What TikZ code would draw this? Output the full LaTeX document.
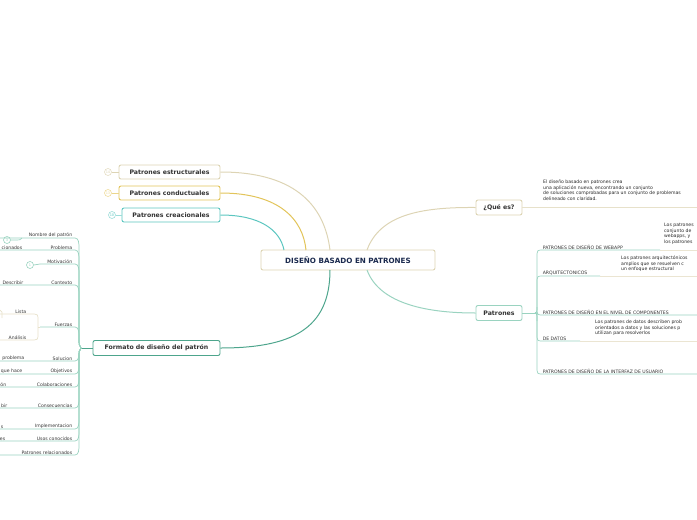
\documentclass[tikz,border=0pt]{standalone}
\usepackage{fontspec}
\setmainfont{DejaVu Sans}
\begin{document}
\begin{tikzpicture}[x=1pt,y=-1pt,
  box/.style={draw,rounded corners=2pt,line width=0.9pt,fill=white,font=\bfseries\fontsize{6.2}{7}\selectfont,text=black!80,inner sep=3pt,minimum height=14pt},
  lbl/.style={font=\fontsize{4.6}{5.5}\selectfont,text=black!80,inner sep=0.6pt},
  desc/.style={font=\fontsize{4.6}{5.5}\selectfont,text=black!85,align=left,inner sep=0pt,anchor=north west},
  num/.style={circle,draw,line width=0.6pt,font=\fontsize{3.5}{4}\selectfont,inner sep=0.6pt,minimum size=7pt},
  ln/.style={line width=0.7pt}]
\definecolor{beige}{HTML}{DDD4B4}
\definecolor{gold}{HTML}{E2C45A}
\definecolor{teal}{HTML}{5CC6C0}
\definecolor{green}{HTML}{4DA58C}
\definecolor{lgreen}{HTML}{9AD3C0}
\definecolor{navy}{HTML}{1B2A4E}
\useasboundingbox (0,0) rectangle (697,520);
% central
\node[box,draw=beige,text=navy,font=\bfseries\fontsize{7.2}{8}\selectfont,minimum width=174pt,minimum height=20pt] (c) at (348,260) {DISEÑO BASADO EN PATRONES};
\coordinate (ct1) at (330,250); \coordinate (ct2) at (306,250); \coordinate (ct3) at (284,250);
\coordinate (cb) at (330,270); \coordinate (cr1) at (367,250); \coordinate (cr2) at (367,270);
% left top
\node[box,draw=beige,minimum width=101pt] (pe) at (169.5,172) {Patrones estructurales};
\node[box,draw=gold,minimum width=101pt] (pc) at (169.5,193) {Patrones conductuales};
\node[box,draw=teal,minimum width=98pt] (pr) at (171,215) {Patrones creacionales};
\node[num,draw=beige!80,text=beige] (n14) at (108,172) {14};
\node[num,draw=gold!60,text=gold!60] (n13) at (108,193) {13};
\node[num,draw=teal!60,text=teal] (n10) at (112,215) {10};
\draw[ln,beige] (n14)--(pe); \draw[ln,gold!70] (n13)--(pc); \draw[ln,teal!60] (n10)--(pr);
\draw[ln,beige,line width=1pt] (pe.east) .. controls (300,172) and (325,210) .. (ct1);
\draw[ln,gold,line width=1pt] (pc.east) .. controls (280,193) and (303,220) .. (ct2);
\draw[ln,teal,line width=1pt] (pr.east) .. controls (260,215) and (280,230) .. (ct3);
% formato
\node[box,draw=green,minimum width=127pt,minimum height=15pt] (fm) at (156.5,348) {Formato de diseño del patrón};
\draw[ln,green,line width=1pt] (cb) .. controls (330,330) and (290,348) .. (fm.east);
\coordinate (fj) at (81,348);
\draw[ln,green] (fm.west)--(fj);
\foreach \t/\y/\l/\cc in {Nombre del patrón/238/0/lgreen,Problema/250/0/lgreen,Motivación/264/40/lgreen,Contexto/285/0/lgreen,Fuerzas/327/40/lgreen,Solucion/361/0/lgreen,Objetivos/374/0/lgreen,Colaboraciones/387/0/lgreen,Consecuencias/408/0/lgreen,Implementacion/429/0/lgreen,Usos conocidos/441/0/lgreen,Patrones relacionados/455/0/lgreen}{
  \node[lbl,anchor=south east] (f\y) at (73,\y) {\t};
  \ifdim\y pt<348pt
    \draw[ln,\cc] (\l,\y)--(75,\y) .. controls (79,\y) and (79,\y+6) .. (79,\y+10) -- (79,338) .. controls (79,345) .. (fj);
  \else
    \draw[ln,\cc] (\l,\y)--(75,\y) .. controls (79,\y) and (79,\y-6) .. (79,\y-10) -- (79,358) .. controls (79,351) .. (fj);
  \fi
}
% grandchildren on left
\node[lbl,anchor=south east] (g1) at (23,250) {cionados};
\node[lbl,anchor=south east] (g2) at (24,285) {Describir};
\node[lbl,anchor=south east] (g3) at (25,361) {problema};
\node[lbl,anchor=south east] (g4) at (23,374) {que hace};
\node[lbl,anchor=south east] (g5) at (7,387) {ón};
\node[lbl,anchor=south east] (g6) at (8,408) {bir};
\node[lbl,anchor=south east] (g7) at (4,429) {s};
\node[lbl,anchor=south east] (g8) at (6,441) {es};
\node[lbl,anchor=south east] (g9) at (27,314) {Lista};
\node[lbl,anchor=south east] (g10) at (27,340) {Análisis};
\draw[ln,beige!70] (0,314)--(30,314) .. controls (38,314) .. (38,320) -- (38,334) .. controls (38,340) .. (30,340) -- (0,340);
\draw[ln,beige!70] (38,327)--(40,327);
\draw[ln,beige!70] (0,310) -- (2,312) -- (2,318);
\node[num,draw=lgreen,text=lgreen] (n3) at (7,240) {3};
\node[num,draw=lgreen,text=lgreen] (n1) at (30,265) {1};
\draw[ln,lgreen] (n3.east)--(17,240) .. controls (20,240) .. (22,238);
\draw[ln,lgreen] (n1.east)--(40,264);
% right side
\node[box,draw=beige,minimum width=46pt,minimum height=15pt] (qe) at (499,207.5) {¿Qué es?};
\draw[ln,beige,line width=1pt] (cr1) .. controls (380,215) and (420,207) .. (qe.west);
\draw[ln,beige!70] (qe.east)--(697,207.5);
\node[desc] (qd) at (543,180) {El diseño basado en patrones crea\\una aplicación nueva, encontrando un conjunto\\de soluciones comprobadas para un conjunto de problemas\\delineado con claridad.};
\node[box,draw=lgreen,minimum width=46pt,minimum height=15pt] (pa) at (499,313) {Patrones};
\draw[ln,lgreen,line width=1pt] (cr2) .. controls (380,305) and (430,313) .. (pa.west);
\coordinate (pj) at (535,313);
\draw[ln,lgreen] (pa.east)--(pj);
\foreach \t/\y/\r in {PATRONES DE DISEÑO DE WEBAPP/250/660,ARQUITECTONICOS/276/600,PATRONES DE DISEÑO EN EL NIVEL DE COMPONENTES/315/697,DE DATOS/341/580,PATRONES DE DISEÑO DE LA INTERFAZ DE USUARIO/374/697}{
  \node[lbl,anchor=south west] (p\y) at (542,\y) {\t};
  \ifdim\y pt<313pt
    \draw[ln,lgreen] (pj) .. controls (537,313) .. (537,305) -- (537,\y+8) .. controls (537,\y) .. (543,\y) -- (\r,\y);
  \else
    \draw[ln,lgreen] (pj) .. controls (537,313) .. (537,321) -- (537,\y-8) .. controls (537,\y) .. (543,\y) -- (\r,\y);
  \fi
}
\draw[ln,beige!60] (580,341)--(697,341);
\draw[ln,beige!60] (600,276)--(697,276);
\draw[ln,beige!60] (660,250)--(697,250);
\node[desc] (d1) at (664,223) {Los patrones\\conjunto de\\webapps, y\\los patrones};
\node[desc] (d2) at (621,256) {Los patrones arquitectónicos\\amplios que se resuelven c\\un enfoque estructural};
\node[desc] (d3) at (595,320) {Los patrones de datos describen prob\\orientados a datos y las soluciones p\\utilizan para resolverlos};
\end{tikzpicture}
\end{document}
